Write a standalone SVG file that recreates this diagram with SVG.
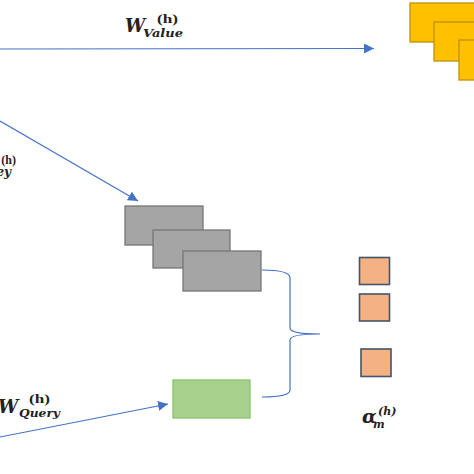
<svg xmlns="http://www.w3.org/2000/svg" width="474" height="474" viewBox="0 0 474 474">
<defs>
<style>
.ln{stroke:#4472c4;stroke-width:1.2;fill:none}
.gray{fill:#a5a5a5;stroke:#767676;stroke-width:1.3}
.yel{fill:#ffc000;stroke:#bf9000;stroke-width:1.3}
.grn{fill:#a9d18e;stroke:#8cc06e;stroke-width:1.3}
.org{fill:#f4b183;stroke:#44546a;stroke-width:1.6}
.w{font-family:"DejaVu Serif","Liberation Serif",serif;font-style:italic;font-weight:bold;fill:#222}
.h{font-family:"Liberation Serif","DejaVu Serif",serif;font-weight:bold;fill:#222}
</style>
<marker id="ah" viewBox="0 0 10 10" refX="10" refY="5" markerWidth="10" markerHeight="10" markerUnits="userSpaceOnUse" orient="auto">
<path d="M0,0 L10,5 L0,10 Z" fill="#4472c4"/>
</marker>
</defs>
<rect width="474" height="474" fill="#ffffff"/>
<g id="connectors">
<line class="ln" x1="0" y1="49" x2="374" y2="48.5" marker-end="url(#ah)"/>
<line class="ln" x1="0" y1="121" x2="138" y2="201" marker-end="url(#ah)"/>
<line class="ln" x1="0" y1="437" x2="168" y2="404" marker-end="url(#ah)"/>
<path class="ln" d="M262,270 Q290,270 290,278 L290,328 Q290,334 320,334 Q290,334 290,340 L290,390 Q290,397 262,397"/>
</g>
<g id="value">
<rect class="yel" x="410" y="3" width="70" height="39"/>
<rect class="yel" x="434" y="22" width="50" height="39"/>
<rect class="yel" x="459" y="40" width="30" height="40"/>
</g>
<g id="key">
<rect class="gray" x="125" y="206" width="78" height="39"/>
<rect class="gray" x="153" y="230" width="77" height="38"/>
<rect class="gray" x="183" y="251" width="78" height="40"/>
</g>
<g id="query">
<rect class="grn" x="173" y="380" width="77" height="38"/>
</g>
<g id="alpha">
<rect class="org" x="359.5" y="257.5" width="30" height="27"/>
<rect class="org" x="359.5" y="294" width="30" height="27"/>
<rect class="org" x="361" y="349" width="30" height="27.5"/>
</g>
<g id="labels">
<text class="w" x="125" y="32" font-size="18">W</text>
<text class="w" x="143" y="36.5" font-size="11" textLength="40" lengthAdjust="spacingAndGlyphs">Value</text>
<text class="h" x="157" y="23" font-size="12" textLength="21" lengthAdjust="spacingAndGlyphs">(h)</text>
<text class="h" x="16" y="164" font-size="12" text-anchor="end">(h)</text>
<text class="w" x="11" y="176" font-size="12" text-anchor="end">Key</text>
<text class="w" x="-2" y="413" font-size="18">W</text>
<text class="w" x="19" y="417" font-size="11" textLength="41" lengthAdjust="spacingAndGlyphs">Query</text>
<text class="h" x="29" y="403" font-size="12" textLength="21" lengthAdjust="spacingAndGlyphs">(h)</text>
<text class="w" x="362" y="423" font-size="19">α</text>
<text class="w" x="373" y="428" font-size="11">m</text>
<text class="w" x="378" y="415" font-size="11">(h)</text>
</g>
</svg>
